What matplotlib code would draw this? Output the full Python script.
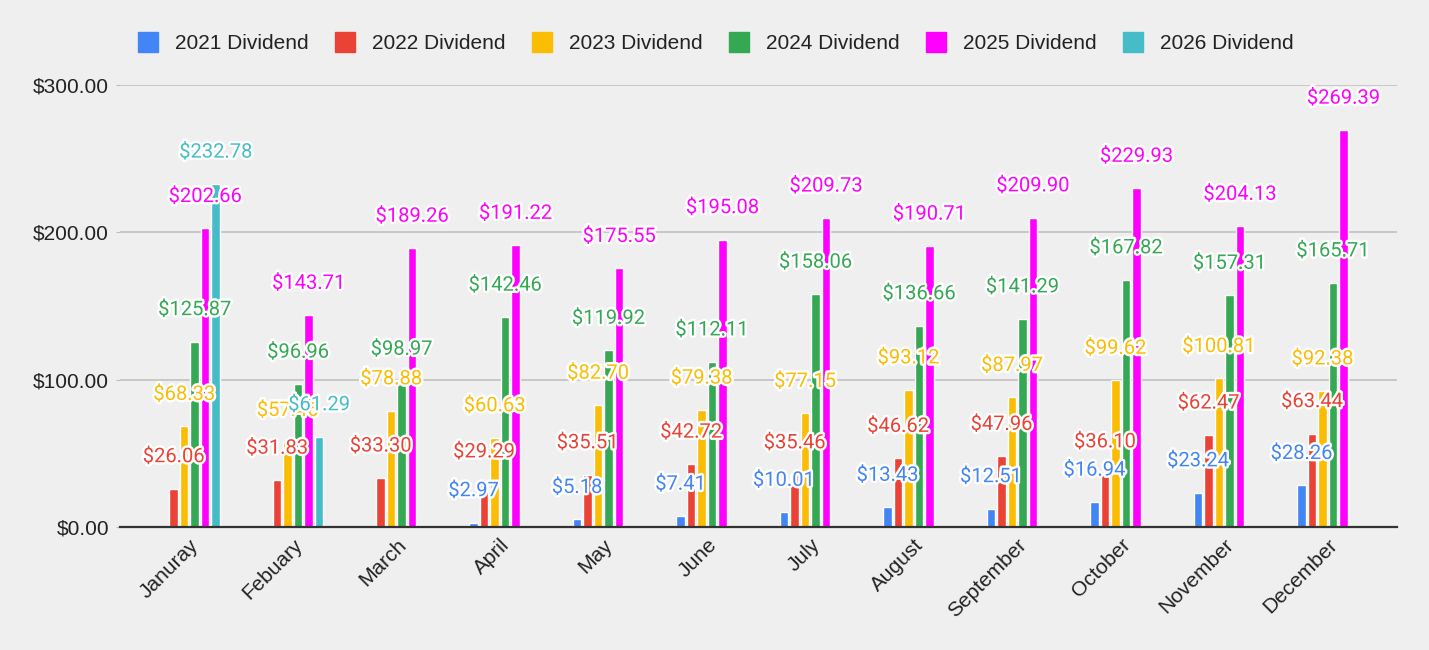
import matplotlib; matplotlib.use("Agg")
import matplotlib.pyplot as plt
import matplotlib.patheffects as pe
from matplotlib.lines import Line2D
import numpy as np

months = ["Januray", "Febuary", "March", "April", "May", "June", "July",
          "August", "September", "October", "November", "December"]
div_2021 = [None, None, None, 2.97, 5.18, 7.41, 10.01, 13.43, 12.51, 16.94, 23.24, 28.26]
div_2022 = [26.06, 31.83, 33.30, 29.29, 35.51, 42.72, 35.46, 46.62, 47.96, 36.10, 62.47, 63.44]
div_2023 = [68.33, 57.46, 78.88, 60.63, 82.70, 79.38, 77.15, 93.12, 87.97, 99.62, 100.81, 92.38]
div_2024 = [125.87, 96.96, 98.97, 142.46, 119.92, 112.11, 158.06, 136.66, 141.29, 167.82, 157.31, 165.71]
div_2025 = [202.66, 143.71, 189.26, 191.22, 175.55, 195.08, 209.73, 190.71, 209.90, 229.93, 204.13, 269.39]
div_2026 = [232.78, 61.29, None, None, None, None, None, None, None, None, None, None]

series = [
    ("2021 Dividend", div_2021, "#4285f4"),
    ("2022 Dividend", div_2022, "#ea4335"),
    ("2023 Dividend", div_2023, "#fbbc04"),
    ("2024 Dividend", div_2024, "#34a853"),
    ("2025 Dividend", div_2025, "#ff00ff"),
    ("2026 Dividend", div_2026, "#46bdc6"),
]

BG = "#efefef"
AX_FONT = "Liberation Sans"
LBL_FONT = "Roboto"

fig = plt.figure(figsize=(14.29, 6.5), dpi=100, facecolor=BG)
ax = fig.add_axes([0.084, 0.1892, 0.8936, 0.6800], facecolor=BG)

x = np.arange(len(months))
step = 0.1015
for i, (name, vals, col) in enumerate(series):
    xs = [xi + (i - 2.5) * step for xi, v in zip(x, vals) if v is not None]
    ys = [v for v in vals if v is not None]
    ax.bar(xs, ys, width=0.082, color=col, edgecolor="white", linewidth=1.0, zorder=3)

# data labels (drawn after all bars, later series on top)
for i, (name, vals, col) in enumerate(series):
    for xi, v in zip(x, vals):
        if v is None:
            continue
        ax.annotate(f"${v:,.2f}", (xi + (i - 2.5) * step, v), xytext=(0, 23),
                    textcoords="offset points", ha="center", va="center",
                    fontsize=14.5, family=LBL_FONT, color=col, zorder=5 + i,
                    annotation_clip=False,
                    path_effects=[pe.withStroke(linewidth=3.5, foreground="white")])

ax.set_xlim(-0.67, 11.67)
ax.set_ylim(0, 300)
ax.set_yticks([0, 100, 200, 300])
ax.set_yticklabels(["$0.00", "$100.00", "$200.00", "$300.00"],
                   family=AX_FONT, fontsize=15, color="#222222")
ax.set_xticks(x)
ax.set_xticklabels(months, rotation=45, ha="right", va="top", rotation_mode="anchor",
                   family=AX_FONT, fontsize=15, color="#222222")
ax.tick_params(axis="x", length=0, pad=6)
ax.tick_params(axis="y", length=3, color="#bdbdbd", pad=5)
ax.grid(axis="y", color="#bdbdbd", linewidth=1.1, zorder=0)
for s in ["top", "right", "left"]:
    ax.spines[s].set_visible(False)
ax.spines["bottom"].set_color("#333333")
ax.spines["bottom"].set_linewidth(1.6)
ax.spines["bottom"].set_zorder(4)

handles = [Line2D([], [], marker="s", linestyle="none", markersize=15,
                  markerfacecolor=c, markeredgecolor=c) for _, _, c in series]
fig.legend(handles, [n for n, _, _ in series], loc="center", bbox_to_anchor=(0.5, 0.933),
           ncol=6, frameon=False, prop={"family": AX_FONT, "size": 15},
           handletextpad=0.7, handlelength=1.2, columnspacing=1.15, labelcolor="#222222")

fig.savefig("out.png", dpi=100, facecolor=BG)
